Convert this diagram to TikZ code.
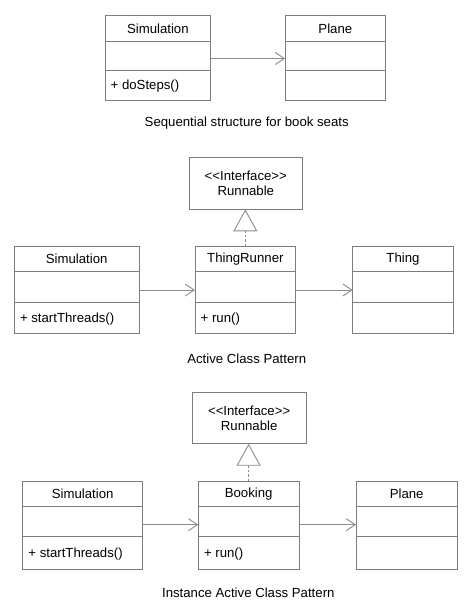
\documentclass[tikz,border=0pt]{standalone}
\usepackage{fontspec}
\setmainfont{Liberation Sans}
\usetikzlibrary{arrows.meta,calc}
\definecolor{boxgray}{RGB}{125,125,125}
\definecolor{arrgray}{RGB}{140,140,140}
\tikzset{
  comp/.style={draw=boxgray, line width=0.9pt, rectangle, inner sep=0pt, outer sep=0pt, font=\fontsize{13.2}{15}\selectfont},
  opstext/.style={anchor=west, inner sep=0pt, font=\fontsize{13.2}{15}\selectfont},
  caption/.style={inner sep=0pt, font=\fontsize{13.2}{15}\selectfont},
  assoc/.style={draw=arrgray, line width=0.9pt, -{Straight Barb[length=9pt,width=12pt,line width=0.9pt]}},
  realize/.style={draw=arrgray, line width=0.9pt, dash pattern=on 2.5pt off 2pt, -{Triangle[open,length=22pt,width=24pt,line width=0.9pt,fill=white]}}
}
% #1 name, #2 x, #3 y, #4 width, #5 h1, #6 h2, #7 h3, #8 title
\newcommand\umlcls[8]{%
  \node[comp, anchor=north west, minimum width=#4pt, minimum height=#5pt] (#1) at (#2,#3) {#8};
  \node[comp, anchor=north, minimum width=#4pt, minimum height=#6pt] (#1a) at (#1.south) {};
  \node[comp, anchor=north, minimum width=#4pt, minimum height=#7pt] (#1o) at (#1a.south) {};
}
\begin{document}
\begin{tikzpicture}[x=1pt,y=-1pt]
\useasboundingbox (0,0) rectangle (474,613);
\fill[white] (0,0) rectangle (474,613);

% ---- Sequential structure
\umlcls{simA}{105}{15.7}{105.7}{26}{28.6}{29.7}{Simulation}
\umlcls{planeA}{285}{15.7}{100.7}{26}{28.6}{29.7}{Plane}
\node[opstext] (simAops) at ([xshift=5.5pt,yshift=-1pt]simAo.west) {+ doSteps()};
\draw[assoc] ([yshift=-2.5pt]simAa.east) -- ([yshift=-2.5pt]planeAa.west);
\node[caption] (capA) at (246.7,123) {Sequential structure for book seats};

% ---- Active Class Pattern
\node[comp, minimum width=113pt, minimum height=52pt, align=center] (runB) at (245.8,183.3) {{<}{<}Interface{>}{>}\\Runnable};
\umlcls{simB}{14.3}{246}{124.7}{25.7}{30.6}{31.4}{Simulation}
\umlcls{trB}{195}{246}{100.7}{25.7}{30.6}{31.4}{ThingRunner}
\umlcls{thingB}{352.7}{246}{100.6}{25.7}{30.6}{31.4}{Thing}
\node[opstext] (simBops) at ([xshift=5.5pt,yshift=-1pt]simBo.west) {+ startThreads()};
\node[opstext] (trBops) at ([xshift=5.5pt,yshift=-1pt]trBo.west) {+ run()};
\draw[assoc] ([yshift=-3pt]simBa.east) -- ([yshift=-3pt]trBa.west);
\draw[assoc] ([yshift=-3pt]trBa.east) -- ([yshift=-3pt]thingBa.west);
\draw[realize] (trB.north) -- (trB.north |- runB.south);
\node[caption] (capB) at (246.7,359) {Active Class Pattern};

% ---- Instance Active Class Pattern
\node[comp, minimum width=113.7pt, minimum height=51.4pt, align=center] (runC) at (249.15,418) {{<}{<}Interface{>}{>}\\Runnable};
\umlcls{simC}{22.7}{481}{120}{25.7}{30}{32.3}{Simulation}
\umlcls{bookC}{198.3}{481}{100.7}{25.7}{30}{32.3}{Booking}
\umlcls{planeC}{356}{481}{101.3}{25.7}{30}{32.3}{Plane}
\node[opstext] (simCops) at ([xshift=5.5pt,yshift=-1pt]simCo.west) {+ startThreads()};
\node[opstext] (bookCops) at ([xshift=5.5pt,yshift=-1pt]bookCo.west) {+ run()};
\draw[assoc] ([yshift=-3pt]simCa.east) -- ([yshift=-3pt]bookCa.west);
\draw[assoc] ([yshift=-3pt]bookCa.east) -- ([yshift=-3pt]planeCa.west);
\draw[realize] (bookC.north) -- (bookC.north |- runC.south);
\node[caption] (capC) at (248.3,592.3) {Instance Active Class Pattern};
\end{tikzpicture}
\end{document}
